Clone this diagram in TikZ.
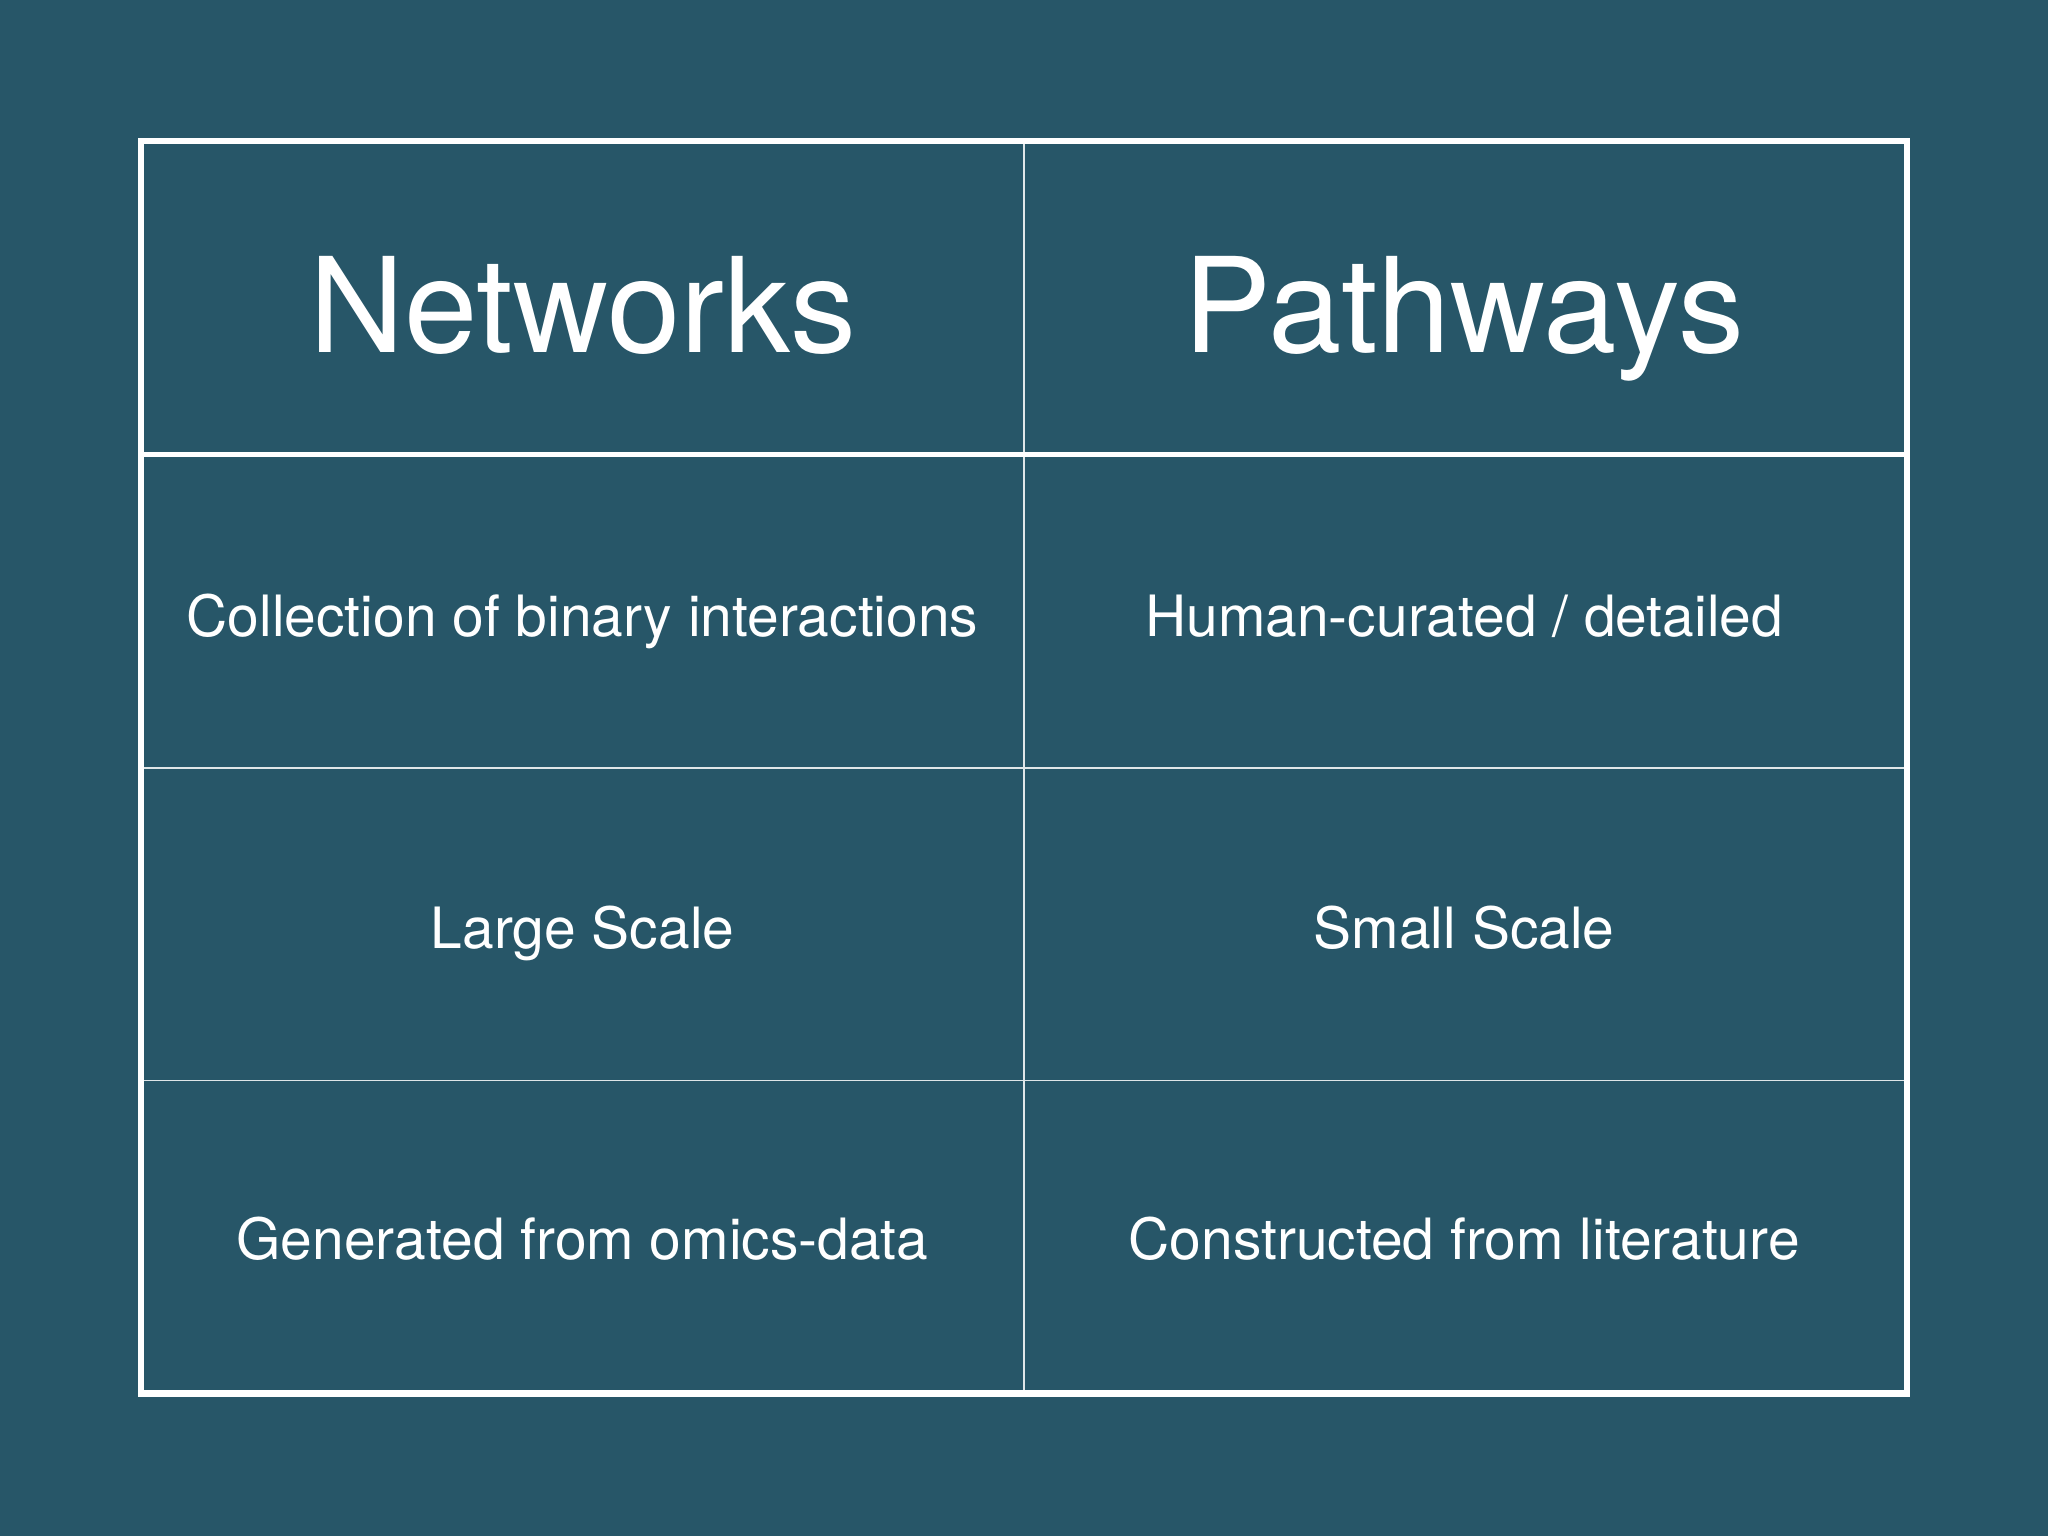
\documentclass[tikz,border=0pt]{standalone}
\usepackage{fontspec}
\setmainfont{TeX Gyre Heros}
\definecolor{bg}{HTML}{275668}
\begin{document}
\begin{tikzpicture}[x=0.5pt,y=-0.5pt,
  head/.style={text=white,anchor=base,font=\fontsize{50.5}{56}\selectfont},
  cell/.style={text=white,anchor=base,font=\fontsize{21.8}{25}\selectfont},
  thin/.style={draw=white!85!bg,line width=0.5pt}]
\fill[bg] (0,0) rectangle (1568,1176);
\draw[thin] (784,108) -- (784,1067);
\draw[thin] (108,588) -- (1460,588);
\draw[thin] (108,827) -- (1460,827);
\draw[white,line width=2pt] (108,348) -- (1460,348);
\draw[white,line width=2.5pt] (108,108) rectangle (1460,1067);
\node[head] (n) at (446,270) {Networks};
\node[head] (p) at (1121,270) {Pathways};
\node[cell] (a1) at (446,487) {Collection of binary interactions};
\node[cell] (b1) at (1121,487) {Human-curated / detailed};
\node[cell] (a2) at (446,726) {Large Scale};
\node[cell] (b2) at (1121,726) {Small Scale};
\node[cell] (a3) at (446,964) {Generated from omics-data};
\node[cell] (b3) at (1121,964) {Constructed from literature};
\end{tikzpicture}
\end{document}
